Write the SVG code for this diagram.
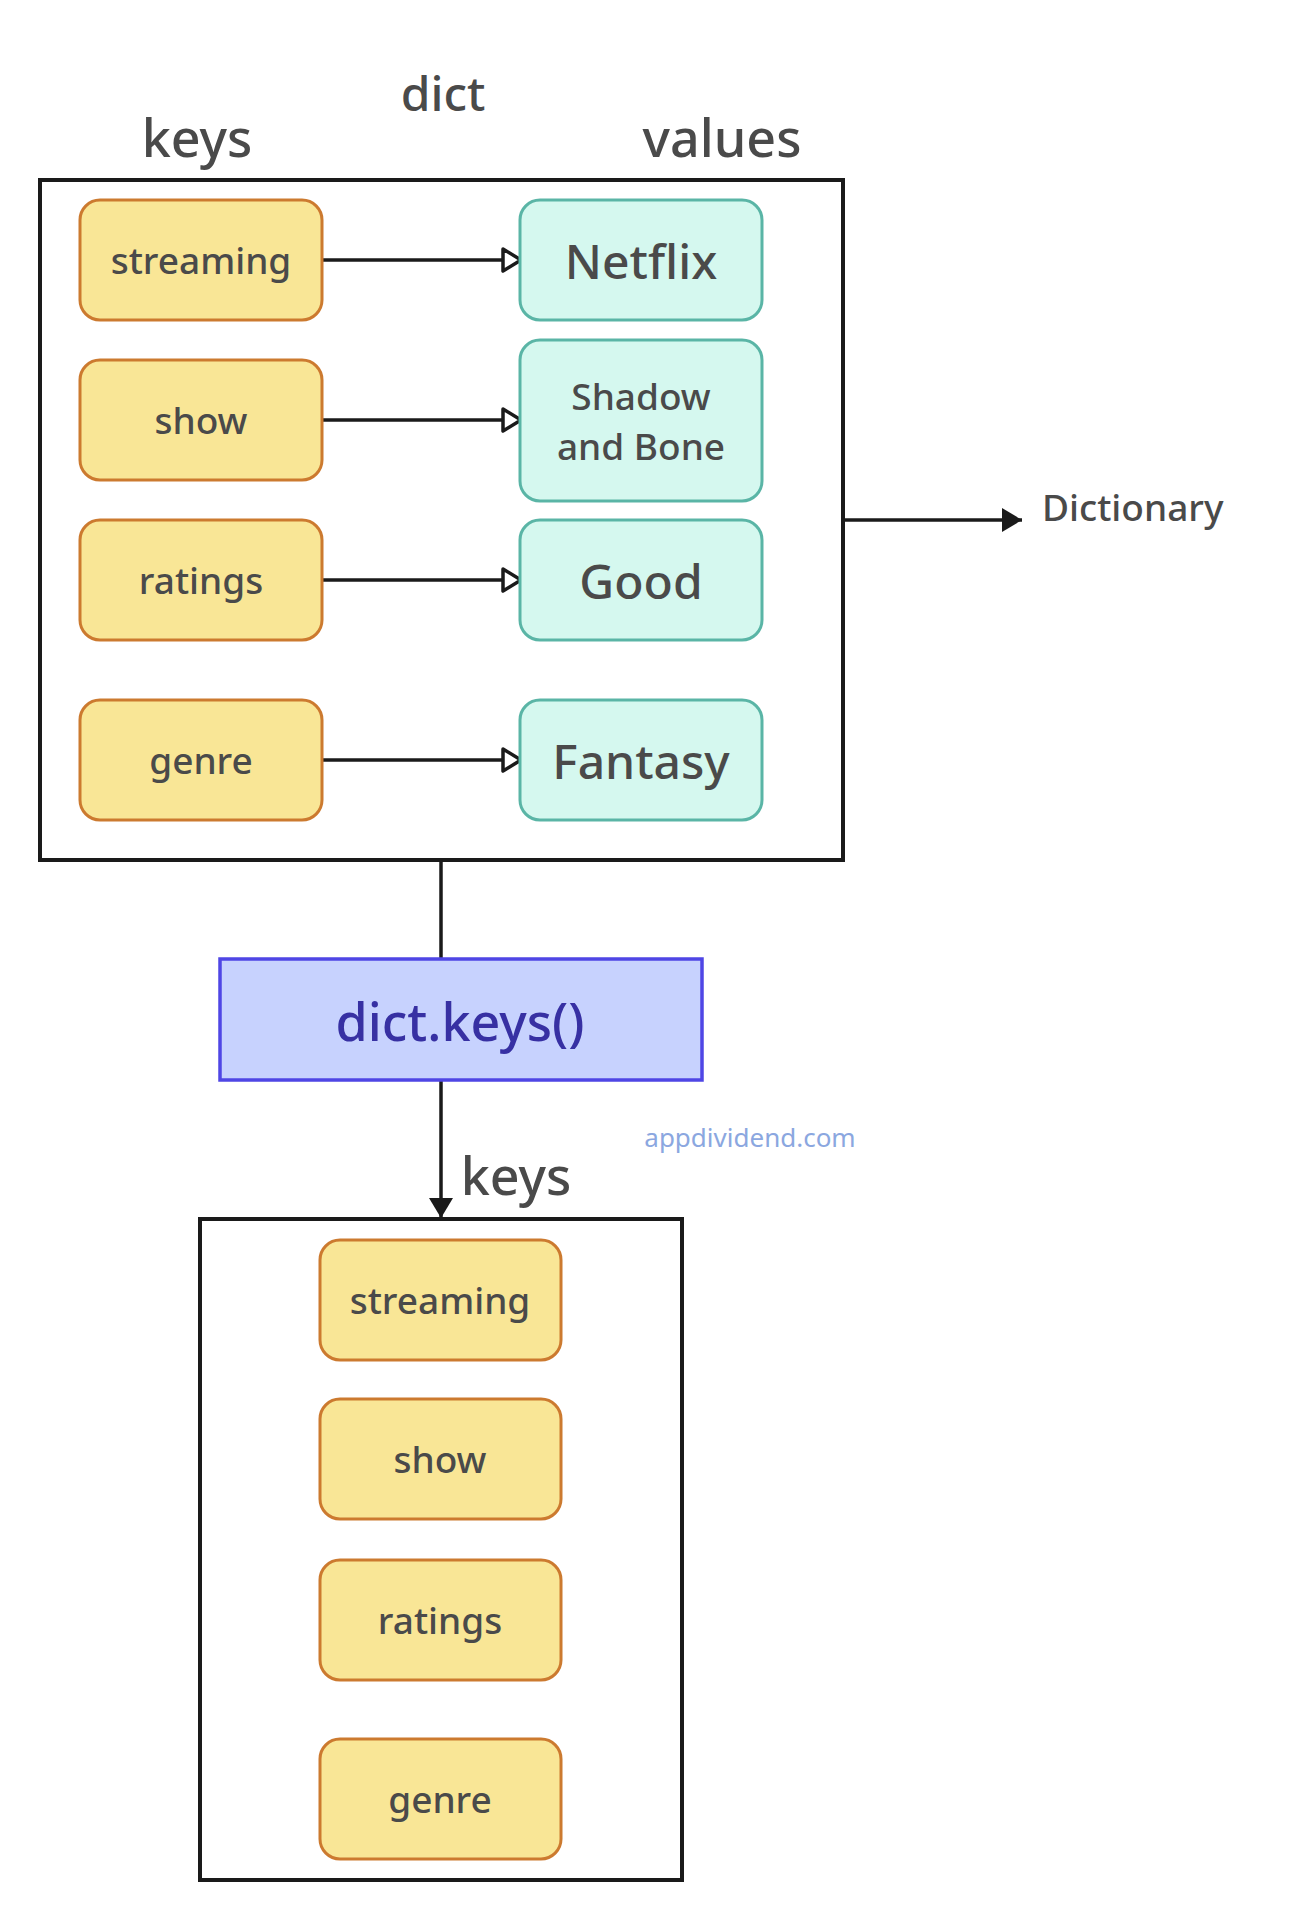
<svg xmlns="http://www.w3.org/2000/svg" width="1300" height="1920" viewBox="0 0 1300 1920">
<style>
text{font-family:"Noto Sans","Open Sans","DejaVu Sans",sans-serif;font-weight:500;fill:#4a4a4a;text-anchor:middle}
.key rect{fill:#f9e696;stroke:#cc7a2f;stroke-width:3}
.val rect{fill:#d5f8ef;stroke:#5ab5a6;stroke-width:3}
.kt{font-size:37px}
.vt{font-size:48px}
.lbl{font-size:52px}
.box{fill:none;stroke:#1a1a1a;stroke-width:4}
.ln{stroke:#1a1a1a;stroke-width:3.5;fill:none}
</style>
<defs>
<marker id="open" viewBox="0 0 22 26" markerWidth="22" markerHeight="26" refX="20" refY="13" orient="auto" markerUnits="userSpaceOnUse">
<path d="M2,2 L20,13 L2,24 Z" fill="#ffffff" stroke="#1a1a1a" stroke-width="3.5" stroke-linejoin="round"/>
</marker>
<marker id="fill" viewBox="0 0 22 26" markerWidth="22" markerHeight="26" refX="21" refY="13" orient="auto" markerUnits="userSpaceOnUse">
<path d="M1,1 L21,13 L1,25 Z" fill="#1a1a1a"/>
</marker>
</defs>
<rect width="1300" height="1920" fill="#ffffff"/>

<g id="labels">
<text x="443" y="111" style="font-size:48px">dict</text>
<text x="197" y="157" class="lbl">keys</text>
<text x="722" y="157" class="lbl">values</text>
<text x="1042" y="521" style="font-size:37px;text-anchor:start">Dictionary</text>
<text x="516" y="1195" class="lbl">keys</text>
<text x="750" y="1147" style="font-size:26px;font-weight:400;fill:#8ba7e0">appdividend.com</text>
</g>

<g id="dict-box"><rect class="box" x="40" y="180" width="803" height="680"/></g>
<g id="keys-box"><rect class="box" x="200" y="1219" width="482" height="661"/></g>

<g id="connectors">
<line class="ln" x1="322" y1="260" x2="521" y2="260" marker-end="url(#open)"/>
<line class="ln" x1="322" y1="420" x2="521" y2="420" marker-end="url(#open)"/>
<line class="ln" x1="322" y1="580" x2="521" y2="580" marker-end="url(#open)"/>
<line class="ln" x1="322" y1="760" x2="521" y2="760" marker-end="url(#open)"/>
<line class="ln" x1="843" y1="520" x2="1022" y2="520" marker-end="url(#fill)"/>
<line class="ln" x1="441" y1="860" x2="441" y2="959"/>
<line class="ln" x1="441" y1="1080" x2="441" y2="1218" marker-end="url(#fill)"/>
</g>

<g id="k-streaming" class="key"><rect x="80" y="200" width="242" height="120" rx="20"/><text x="201" y="274" class="kt">streaming</text></g>
<g id="k-show" class="key"><rect x="80" y="360" width="242" height="120" rx="20"/><text x="201" y="434" class="kt">show</text></g>
<g id="k-ratings" class="key"><rect x="80" y="520" width="242" height="120" rx="20"/><text x="201" y="594" class="kt">ratings</text></g>
<g id="k-genre" class="key"><rect x="80" y="700" width="242" height="120" rx="20"/><text x="201" y="774" class="kt">genre</text></g>

<g id="v-netflix" class="val"><rect x="520" y="200" width="242" height="120" rx="20"/><text x="641" y="279" class="vt">Netflix</text></g>
<g id="v-shadow" class="val"><rect x="520" y="340" width="242" height="161" rx="20"/><text x="641" y="410" class="kt">Shadow</text><text x="641" y="460" class="kt">and Bone</text></g>
<g id="v-good" class="val"><rect x="520" y="520" width="242" height="120" rx="20"/><text x="641" y="599" class="vt">Good</text></g>
<g id="v-fantasy" class="val"><rect x="520" y="700" width="242" height="120" rx="20"/><text x="641" y="779" class="vt">Fantasy</text></g>

<g id="dict-keys"><rect x="220" y="959" width="482" height="121" fill="#c7d2fe" stroke="#4f46e5" stroke-width="3.5"/><text x="460" y="1041" style="font-size:52px;fill:#3730a3">dict.keys()</text></g>

<g id="o-streaming" class="key"><rect x="320" y="1240" width="241" height="120" rx="20"/><text x="440" y="1314" class="kt">streaming</text></g>
<g id="o-show" class="key"><rect x="320" y="1399" width="241" height="120" rx="20"/><text x="440" y="1473" class="kt">show</text></g>
<g id="o-ratings" class="key"><rect x="320" y="1560" width="241" height="120" rx="20"/><text x="440" y="1634" class="kt">ratings</text></g>
<g id="o-genre" class="key"><rect x="320" y="1739" width="241" height="120" rx="20"/><text x="440" y="1813" class="kt">genre</text></g>
</svg>
